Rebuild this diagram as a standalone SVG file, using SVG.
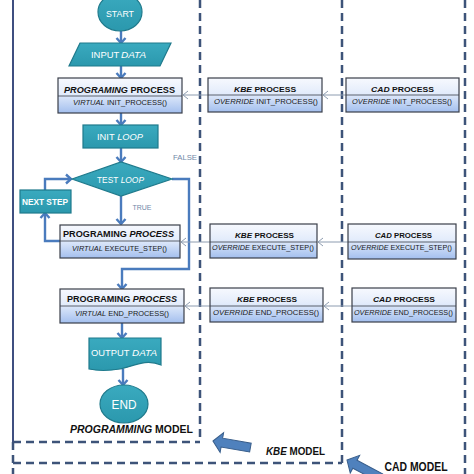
<svg xmlns="http://www.w3.org/2000/svg" width="474" height="474" viewBox="0 0 474 474">
<defs>
<linearGradient id="boxg" x1="0" y1="0" x2="0" y2="1">
<stop offset="0" stop-color="#f7f9fe"/>
<stop offset="0.45" stop-color="#e3ecfb"/>
<stop offset="1" stop-color="#a3bfee"/>
</linearGradient>
<linearGradient id="tealg" x1="0" y1="0" x2="0" y2="1">
<stop offset="0" stop-color="#3aaabf"/>
<stop offset="1" stop-color="#2b98ad"/>
</linearGradient>
<marker id="ah" viewBox="-6 -6 12 12" refX="3" refY="0" markerWidth="12" markerHeight="12" markerUnits="userSpaceOnUse" orient="auto">
<path d="M-2,-4.5 L3,0 L-2,4.5" fill="none" stroke="#4a7bbd" stroke-width="2.4"/>
</marker>
<marker id="ahThin" viewBox="-6 -6 12 12" refX="0" refY="0" markerWidth="12" markerHeight="12" markerUnits="userSpaceOnUse" orient="auto">
<path d="M-5,-4 L0,0 L-5,4" fill="none" stroke="#8d9cb0" stroke-width="1"/>
</marker>
<path id="blk" d="M0,0 L9,-10 L9,-4.5 L38,-4.5 L38,4.5 L9,4.5 L9,10 Z"/>
</defs>
<style>
.dash{fill:none;stroke:#3d5379;stroke-width:2.5;stroke-dasharray:8 5}
.box{fill:url(#boxg);stroke:#3a3f4a;stroke-width:1.2}
.div{stroke:#3a3f4a;stroke-width:0.8}
.teal{fill:url(#tealg);stroke:#1f7a8c;stroke-width:1.2}
.flow{fill:none;stroke:#4a7bbd;stroke-width:2.4;marker-end:url(#ah)}
.thin{fill:none;stroke:#8d9cb0;stroke-width:1;marker-end:url(#ahThin)}
text{font-family:"Liberation Sans",Arial,sans-serif}
.m{text-anchor:middle}
.i{font-style:italic}
.tt{font-size:9px;font-weight:bold;fill:#111}
.tk{font-size:8px;font-weight:bold;fill:#111}
.st{font-size:7.2px;fill:#1a1a1a}
.w{font-size:9.2px;fill:#ffffff}
.lab{font-size:8px;fill:#7088a8}
.mod{font-size:10.4px;font-weight:bold;fill:#111}
.blk{fill:#4f81bd;stroke:#385d8a;stroke-width:1}
</style>
<rect width="474" height="474" fill="#ffffff"/>
<g id="frames">
<line x1="13" y1="0" x2="13" y2="442" stroke="#3f4f80" stroke-width="2"/>
<line class="dash" x1="13" y1="442" x2="13" y2="474"/>
<line class="dash" x1="200" y1="0" x2="200" y2="442"/>
<line class="dash" x1="13" y1="442" x2="200" y2="442"/>
<line class="dash" x1="342" y1="0" x2="342" y2="463"/>
<line class="dash" x1="13" y1="463" x2="342" y2="463"/>
<line class="dash" x1="465" y1="0" x2="465" y2="474"/>
</g>
<g id="connectors">
<line class="flow" x1="121" y1="31" x2="121" y2="43"/>
<line class="flow" x1="121" y1="66" x2="121" y2="78"/>
<line class="flow" x1="121" y1="113" x2="121" y2="125"/>
<line class="flow" x1="121" y1="148" x2="121" y2="162"/>
<line class="flow" x1="121" y1="196" x2="121" y2="224"/>
<polyline class="flow" points="60,241 45,241 45,213"/>
<polyline class="flow" points="45,190 45,179 71,179"/>
<polyline class="flow" points="172,179 189,179 189,269 122,269 122,289"/>
<line class="flow" x1="122" y1="323" x2="122" y2="338"/>
<line class="flow" x1="123" y1="369" x2="123" y2="385"/>
<line class="thin" x1="346" y1="95" x2="323" y2="95"/>
<line class="thin" x1="208" y1="95" x2="183" y2="95"/>
<line class="thin" x1="348" y1="242" x2="318" y2="242"/>
<line class="thin" x1="210" y1="242" x2="181" y2="242"/>
<line class="thin" x1="352" y1="306" x2="324" y2="306"/>
<line class="thin" x1="210" y1="306" x2="185" y2="306"/>
</g>
<g id="start">
<ellipse class="teal" cx="120" cy="12" rx="22" ry="19"/>
<text class="m w" x="120" y="17" textLength="28" lengthAdjust="spacingAndGlyphs">START</text>
</g>
<g id="input-data">
<polygon class="teal" points="80,43 171,43 160,66 69,66"/>
<text class="w" x="91" y="58" textLength="28.3" lengthAdjust="spacingAndGlyphs">INPUT</text>
<text class="w i" x="121" y="58" textLength="25.1" lengthAdjust="spacingAndGlyphs">DATA</text>
</g>
<g id="prog-init">
<rect class="box" x="58" y="78" width="124" height="35"/>
<line class="div" x1="58" y1="96" x2="182" y2="96"/>
<text class="tt i" x="64" y="93" textLength="63.9" lengthAdjust="spacingAndGlyphs">PROGRAMING</text>
<text class="tt" x="130.4" y="93" textLength="44.6" lengthAdjust="spacingAndGlyphs">PROCESS</text>
<text class="st i" x="73" y="105" textLength="31.8" lengthAdjust="spacingAndGlyphs">VIRTUAL</text>
<text class="st" x="106.9" y="105" textLength="60.2" lengthAdjust="spacingAndGlyphs">INIT_PROCESS()</text>
</g>
<g id="kbe-init">
<rect class="box" x="208" y="78" width="114" height="34"/>
<line class="div" x1="208" y1="95" x2="322" y2="95"/>
<text class="tk i" x="234" y="92" textLength="18" lengthAdjust="spacingAndGlyphs">KBE</text>
<text class="tk" x="254.4" y="92" textLength="41.7" lengthAdjust="spacingAndGlyphs">PROCESS</text>
<text class="st i" x="214" y="104" textLength="40.2" lengthAdjust="spacingAndGlyphs">OVERRIDE</text>
<text class="st" x="256.3" y="104" textLength="61.6" lengthAdjust="spacingAndGlyphs">INIT_PROCESS()</text>
</g>
<g id="cad-init">
<rect class="box" x="346" y="78" width="113" height="34"/>
<line class="div" x1="346" y1="95" x2="459" y2="95"/>
<text class="tk i" x="371" y="92" textLength="18.6" lengthAdjust="spacingAndGlyphs">CAD</text>
<text class="tk" x="392" y="92" textLength="42" lengthAdjust="spacingAndGlyphs">PROCESS</text>
<text class="st i" x="352" y="104" textLength="38.7" lengthAdjust="spacingAndGlyphs">OVERRIDE</text>
<text class="st" x="392.7" y="104" textLength="59.3" lengthAdjust="spacingAndGlyphs">INIT_PROCESS()</text>
</g>
<g id="init-loop">
<rect class="teal" x="83" y="125" width="75" height="23"/>
<text class="w" x="97" y="140" textLength="17.6" lengthAdjust="spacingAndGlyphs">INIT</text>
<text class="w i" x="117.2" y="140" textLength="25.8" lengthAdjust="spacingAndGlyphs">LOOP</text>
</g>
<g id="test-loop">
<polygon class="teal" points="72,179 121,162 172,179 121,196"/>
<text class="w" x="97" y="183" font-size="8.3" textLength="21.4" lengthAdjust="spacingAndGlyphs">TEST</text>
<text class="w i" x="120.7" y="183" font-size="8.3" textLength="23.3" lengthAdjust="spacingAndGlyphs">LOOP</text>
</g>
<g id="labels">
<text class="m lab" x="185" y="160" textLength="24" lengthAdjust="spacingAndGlyphs">FALSE</text>
<text class="m lab" x="142" y="210" textLength="19" lengthAdjust="spacingAndGlyphs">TRUE</text>
</g>
<g id="next-step">
<rect class="teal" x="20" y="190" width="51" height="23"/>
<text class="m w" x="45" y="205" font-size="8.8" font-weight="bold" textLength="46" lengthAdjust="spacingAndGlyphs">NEXT STEP</text>
</g>
<g id="prog-exec">
<rect class="box" x="60" y="225" width="120" height="33"/>
<line class="div" x1="60" y1="241" x2="180" y2="241"/>
<text class="tt" x="63" y="237" textLength="63.9" lengthAdjust="spacingAndGlyphs">PROGRAMING</text>
<text class="tt i" x="129.4" y="237" textLength="44.6" lengthAdjust="spacingAndGlyphs">PROCESS</text>
<text class="st i" x="72" y="251" textLength="30.7" lengthAdjust="spacingAndGlyphs">VIRTUAL</text>
<text class="st" x="104.7" y="251" textLength="62.3" lengthAdjust="spacingAndGlyphs">EXECUTE_STEP()</text>
</g>
<g id="kbe-exec">
<rect class="box" x="210" y="224" width="107" height="34"/>
<line class="div" x1="210" y1="242" x2="317" y2="242"/>
<text class="tk i" x="235" y="238" textLength="17.1" lengthAdjust="spacingAndGlyphs">KBE</text>
<text class="tk" x="254.4" y="238" textLength="39.6" lengthAdjust="spacingAndGlyphs">PROCESS</text>
<text class="st i" x="212" y="250" textLength="37.9" lengthAdjust="spacingAndGlyphs">OVERRIDE</text>
<text class="st" x="251.9" y="250" textLength="62.1" lengthAdjust="spacingAndGlyphs">EXECUTE_STEP()</text>
</g>
<g id="cad-exec">
<rect class="box" x="348" y="224" width="108" height="35"/>
<line class="div" x1="348" y1="242" x2="456" y2="242"/>
<text class="tk i" x="375" y="238" font-size="7.7" textLength="16.8" lengthAdjust="spacingAndGlyphs">CAD</text>
<text class="tk" x="394" y="238" font-size="7.7" textLength="38" lengthAdjust="spacingAndGlyphs">PROCESS</text>
<text class="st i" x="351" y="250" textLength="37.5" lengthAdjust="spacingAndGlyphs">OVERRIDE</text>
<text class="st" x="390.5" y="250" textLength="61.5" lengthAdjust="spacingAndGlyphs">EXECUTE_STEP()</text>
</g>
<g id="prog-end">
<rect class="box" x="60" y="289" width="124" height="34"/>
<line class="div" x1="60" y1="306" x2="184" y2="306"/>
<text class="tt" x="67" y="302" textLength="63.3" lengthAdjust="spacingAndGlyphs">PROGRAMING</text>
<text class="tt i" x="132.8" y="302" textLength="44.2" lengthAdjust="spacingAndGlyphs">PROCESS</text>
<text class="st i" x="75" y="316" textLength="31.2" lengthAdjust="spacingAndGlyphs">VIRTUAL</text>
<text class="st" x="108.3" y="316" textLength="60.7" lengthAdjust="spacingAndGlyphs">END_PROCESS()</text>
</g>
<g id="kbe-end">
<rect class="box" x="210" y="288" width="113" height="34"/>
<line class="div" x1="210" y1="306" x2="323" y2="306"/>
<text class="tk i" x="237" y="302" textLength="17.4" lengthAdjust="spacingAndGlyphs">KBE</text>
<text class="tk" x="256.7" y="302" textLength="40.3" lengthAdjust="spacingAndGlyphs">PROCESS</text>
<text class="st i" x="213" y="315" textLength="40.3" lengthAdjust="spacingAndGlyphs">OVERRIDE</text>
<text class="st" x="255.5" y="315" textLength="63.5" lengthAdjust="spacingAndGlyphs">END_PROCESS()</text>
</g>
<g id="cad-end">
<rect class="box" x="352" y="288" width="104" height="34"/>
<line class="div" x1="352" y1="306" x2="456" y2="306"/>
<text class="tk i" x="373" y="302" textLength="18.3" lengthAdjust="spacingAndGlyphs">CAD</text>
<text class="tk" x="393.7" y="302" textLength="41.3" lengthAdjust="spacingAndGlyphs">PROCESS</text>
<text class="st i" x="354" y="315" textLength="37.7" lengthAdjust="spacingAndGlyphs">OVERRIDE</text>
<text class="st" x="393.7" y="315" textLength="59.3" lengthAdjust="spacingAndGlyphs">END_PROCESS()</text>
</g>
<g id="output-data">
<path class="teal" d="M89,338 H161 V365 C145,358 132,367 120,369 C108,371 98,371 89,369 Z"/>
<text class="w" x="91" y="356" textLength="38.5" lengthAdjust="spacingAndGlyphs">OUTPUT</text>
<text class="w i" x="132.1" y="356" textLength="24.9" lengthAdjust="spacingAndGlyphs">DATA</text>
</g>
<g id="end">
<ellipse class="teal" cx="124" cy="404" rx="24" ry="19"/>
<text x="124" y="409" text-anchor="middle" font-family="'Liberation Serif','Times New Roman',serif" font-size="13" fill="#ffffff" textLength="25" lengthAdjust="spacingAndGlyphs">END</text>
</g>
<g id="model-labels">
<text class="mod i" x="70" y="433" textLength="82.2" lengthAdjust="spacingAndGlyphs">PROGRAMMING</text>
<text class="mod" x="155.1" y="433" textLength="37.9" lengthAdjust="spacingAndGlyphs">MODEL</text>
<text class="mod i" x="266" y="455" font-size="9.7" textLength="20.8" lengthAdjust="spacingAndGlyphs">KBE</text>
<text class="mod" x="289.5" y="455" font-size="9.7" textLength="35.5" lengthAdjust="spacingAndGlyphs">MODEL</text>
<text x="416" y="471" text-anchor="middle" font-family="'Liberation Serif','Times New Roman',serif" font-size="12" font-weight="bold" fill="#111" textLength="63" lengthAdjust="spacingAndGlyphs">CAD MODEL</text>
</g>
<g id="block-arrows">
<use href="#blk" class="blk" transform="translate(213,441) rotate(10)"/>
<use href="#blk" class="blk" transform="translate(347,460) rotate(28)"/>
</g>
</svg>
